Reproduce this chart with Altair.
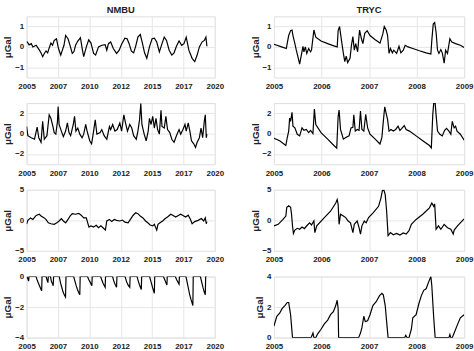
import altair as alt
import pandas as pd

# ---------------- NMBU (left column) ----------------
nmbu1_t = [2005.0, 2005.1, 2005.2, 2005.37, 2005.5, 2005.76, 2005.9, 2006.02, 2006.15, 2006.28, 2006.41, 2006.55, 2006.68, 2006.8,
           2006.94, 2007.07, 2007.2, 2007.38, 2007.54, 2007.72, 2007.85, 2007.98, 2008.11, 2008.3, 2008.46, 2008.64,
           2008.77, 2008.9, 2009.08, 2009.29, 2009.45, 2009.55, 2009.76, 2009.95, 2010.13, 2010.34, 2010.5, 2010.73,
           2011.0, 2011.26, 2011.39, 2011.52, 2011.7, 2011.91, 2012.17, 2012.38, 2012.57, 2012.83, 2013.01, 2013.17,
           2013.35, 2013.53, 2013.69, 2013.87, 2014.06, 2014.21, 2014.4, 2014.58, 2014.79, 2015.0, 2015.18, 2015.37,
           2015.58, 2015.79, 2015.97, 2016.15, 2016.36, 2016.57, 2016.75, 2016.94, 2017.15, 2017.36, 2017.54, 2017.72,
           2017.93, 2018.19, 2018.4, 2018.59, 2018.77, 2018.98, 2019.16, 2019.29, 2019.37]
nmbu1_v = [0.27, 0.2, 0.1, 0.16, 0.0, 0.08, -0.05, -0.16, -0.3, -0.48, -0.32, -0.2, -0.29, -0.05,
           0.19, 0.08, 0.32, 0.4, -0.08, -0.4, -0.16, 0.08, 0.56, 0.4, 0.08, -0.32,
           -0.24, 0.08, 0.29, 0.45, -0.16, -0.48, 0.0, 0.35, 0.19, -0.32, -0.4, 0.0,
           0.08, 0.11, -0.16, 0.16, 0.24, -0.08, -0.32, -0.16, 0.13, 0.43, 0.4, 0.16,
           -0.21, -0.29, 0.03, 0.48, 0.61, 0.24, -0.29, -0.56, 0.0, 0.4, 0.43, 0.24,
           -0.24, 0.16, 0.48, 0.32, -0.16, -0.4, -0.29, 0.03, 0.29, 0.08, 0.16, 0.48,
           -0.16, -0.56, -0.72, -0.4, 0.0, 0.24, 0.32, 0.48, 0.03]

nmbu2_t = [2005.0, 2005.1, 2005.37, 2005.63, 2005.84, 2005.97, 2006.15, 2006.28, 2006.41, 2006.62, 2006.8, 2006.94,
           2007.1, 2007.2, 2007.33, 2007.46, 2007.51, 2007.59, 2007.77, 2007.93, 2008.11, 2008.25, 2008.38, 2008.51,
           2008.72, 2008.82, 2008.93, 2009.08, 2009.24, 2009.42, 2009.55, 2009.71, 2009.82, 2010.03, 2010.18, 2010.34,
           2010.47, 2010.6, 2010.86, 2010.99, 2011.18, 2011.39, 2011.6, 2011.7, 2011.86, 2012.04, 2012.22, 2012.43,
           2012.57, 2012.75, 2012.88, 2013.04, 2013.22, 2013.38, 2013.53, 2013.74, 2013.87, 2014.0, 2014.1, 2014.19,
           2014.37, 2014.53, 2014.69, 2014.79, 2014.92, 2015.05, 2015.18, 2015.31, 2015.44, 2015.58, 2015.71, 2015.79,
           2015.97, 2016.1, 2016.23, 2016.41, 2016.57, 2016.75, 2016.94, 2017.15, 2017.28, 2017.46, 2017.62, 2017.72,
           2017.88, 2018.01, 2018.14, 2018.32, 2018.46, 2018.59, 2018.77, 2018.9, 2019.03, 2019.16, 2019.24, 2019.32,
           2019.37]
nmbu2_v = [0.7, -0.2, -0.4, -0.55, 0.65, -0.4, -0.85, 1.2, -0.55, -0.2, 1.85, 1.5,
           0.7, 0.1, -0.05, 1.2, 2.65, 0.9, 0.25, -0.3, 0.25, 1.05, 0.1, -0.2,
           0.9, 1.7, 0.25, 0.55, -0.05, -0.4, -0.05, 0.9, 0.25, -0.7, -1.0, 0.25,
           1.35, -0.05, 0.1, 0.4, -0.2, -0.55, 0.7, 0.4, 0.9, 0.25, 0.4, 1.05,
           0.25, 1.85, 1.05, 0.25, 0.9, 0.55, -0.2, -0.55, 0.25, 1.35, 2.95, 0.9,
           -0.05, -0.7, 0.25, 1.5, 0.9, 1.7, 0.55, 1.5, 0.4, -0.05, 2.3, 0.7,
           0.55, 1.7, 0.4, 0.1, -0.55, -0.85, -0.2, 0.4, -0.05, 0.4, 0.9, 0.25,
           1.05, 0.25, -0.7, -1.0, -1.35, -0.85, -0.4, 0.55, -0.4, 1.2, 1.85, -0.4,
           -0.05]

nmbu3_t = [2005.0, 2005.1, 2005.31, 2005.5, 2005.76, 2006.02, 2006.15, 2006.41, 2006.54, 2006.73, 2006.94, 2007.2,
           2007.41, 2007.59, 2007.77, 2007.93, 2008.11, 2008.3, 2008.46, 2008.64, 2008.9, 2009.16, 2009.35, 2009.55,
           2009.76, 2009.87, 2009.97, 2010.13, 2010.34, 2010.55, 2010.73, 2010.92, 2011.13, 2011.28, 2011.39, 2011.6,
           2011.78, 2011.99, 2012.17, 2012.43, 2012.64, 2012.83, 2013.09, 2013.27, 2013.48, 2013.69, 2013.87, 2014.06,
           2014.27, 2014.48, 2014.66, 2014.84, 2015.05, 2015.18, 2015.37, 2015.47, 2015.63, 2015.84, 2016.05, 2016.23,
           2016.49, 2016.68, 2016.88, 2017.09, 2017.28, 2017.46, 2017.67, 2017.88, 2018.06, 2018.19, 2018.4, 2018.67,
           2018.93, 2019.11, 2019.24, 2019.32, 2019.37]
nmbu3_v = [-0.6, 0.0, 0.4, 0.15, 0.8, 1.0, 0.7, 0.4, 0.15, -0.4, -0.55, -0.65,
           -0.4, -0.1, 0.3, -0.1, -0.4, 0.15, 0.7, 1.1, 1.0, 1.15, 0.85, 0.4,
           0.4, -0.4, -1.1, -0.9, -1.1, -0.8, -1.2, -0.9, -1.3, -1.6, -0.1, 0.15,
           -0.2, 0.15, 0.0, -0.1, 0.05, -0.3, -0.4, 0.15, 0.8, 1.25, 1.1, 0.7,
           0.4, -0.1, -0.4, -0.75, -0.9, -0.65, -1.6, -0.65, -0.4, -0.1, 0.3, 0.55,
           1.0, 0.8, 0.55, 0.8, 1.0, 0.8, 0.55, 0.85, 0.15, -0.55, -0.2, 0.0,
           0.3, -0.1, 0.4, -0.55, -0.2]

nmbu4_t = [2005.0, 2005.08, 2005.16, 2005.19, 2005.75, 2005.85, 2005.95, 2006.05, 2006.15, 2006.2, 2006.23,
           2006.55, 2006.62, 2006.7, 2006.73, 2006.9, 2006.97, 2007.05, 2007.12, 2007.15,
           2007.6, 2007.7, 2007.8, 2007.9, 2008.0, 2008.1, 2008.14,
           2008.75, 2008.85, 2008.95, 2009.05, 2009.15, 2009.24, 2009.27,
           2009.85, 2009.95, 2010.05, 2010.2, 2010.23,
           2010.9, 2011.0, 2011.1, 2011.26, 2011.29,
           2011.85, 2011.95, 2012.05, 2012.17, 2012.2,
           2012.85, 2012.95, 2013.08, 2013.22, 2013.25,
           2013.8, 2013.9, 2014.0, 2014.14, 2014.17,
           2014.8, 2014.9, 2015.05, 2015.18, 2015.21,
           2015.9, 2016.0, 2016.1, 2016.18, 2016.21,
           2016.85, 2016.95, 2017.05, 2017.15, 2017.18,
           2017.7, 2017.8, 2017.9, 2018.0, 2018.1, 2018.25, 2018.28,
           2018.85, 2018.95, 2019.05, 2019.15, 2019.24, 2019.27, 2019.35]
nmbu4_v = [0.0, -0.1, -0.3, 0.0, 0.0, -0.25, -0.45, -0.65, -0.85, -0.93, 0.0,
           0.0, -0.2, -0.4, 0.0, 0.0, -0.3, -0.45, -0.6, 0.0,
           0.0, -0.4, -0.7, -1.0, -1.2, -1.35, 0.0,
           0.0, -0.3, -0.6, -0.85, -1.05, -1.2, 0.0,
           0.0, -0.2, -0.35, -0.6, 0.0,
           0.0, -0.25, -0.45, -0.7, 0.0,
           0.0, -0.3, -0.5, -0.7, 0.0,
           0.0, -0.3, -0.55, -0.7, 0.0,
           0.0, -0.3, -0.55, -0.85, 0.0,
           0.0, -0.3, -0.75, -1.1, 0.0,
           0.0, -0.2, -0.4, -0.55, 0.0,
           0.0, -0.2, -0.35, -0.5, 0.0,
           0.0, -0.4, -0.8, -1.2, -1.5, -1.9, 0.0,
           0.0, -0.35, -0.7, -1.0, -1.2, 0.0, 0.0]

# ---------------- TRYC (right column) ----------------
tryc1_t = [2005.0, 2005.16, 2005.26, 2005.28, 2005.31, 2005.35, 2005.38, 2005.4, 2005.44, 2005.47, 2005.52, 2005.54,
           2005.57, 2005.61, 2005.63, 2005.66, 2005.69, 2005.73, 2005.77, 2005.79, 2005.84, 2005.88, 2005.99, 2006.13,
           2006.26, 2006.33, 2006.35, 2006.38, 2006.42, 2006.46, 2006.49, 2006.52, 2006.55, 2006.6, 2006.63, 2006.66,
           2006.69, 2006.72, 2006.76, 2006.8, 2006.84, 2006.87, 2006.91, 2006.96, 2007.02, 2007.13, 2007.23, 2007.29,
           2007.32, 2007.36, 2007.39, 2007.42, 2007.45, 2007.49, 2007.52, 2007.58, 2007.63, 2007.67, 2007.72, 2007.76,
           2007.82, 2007.92, 2008.06, 2008.2, 2008.3, 2008.32, 2008.35, 2008.38, 2008.41, 2008.44, 2008.47, 2008.51,
           2008.54, 2008.58, 2008.61, 2008.65, 2008.7, 2008.74, 2008.82, 2008.92, 2009.0]
tryc1_v = [0.13, 0.0, -0.08, 0.19, 0.56, 0.8, 0.83, 0.56, 0.16, -0.16, -0.64, -0.85,
           -0.48, 0.03, -0.24, 0.0, -0.32, -0.08, -0.24, -0.16, 0.83, 0.48, 0.29, 0.16,
           0.05, 0.0, 0.8, 1.0, 0.32, -0.32, -0.72, -0.45, -0.77, -0.56, 0.08, 0.51,
           -0.16, 0.16, -0.24, 0.83, 0.4, 0.16, 0.67, 0.8, 0.56, 0.35, 0.19, 0.64,
           1.0, 0.83, 0.56, -0.32, -0.08, -0.29, -0.16, -0.32, 0.03, -0.29, -0.16, 0.08,
           0.0, -0.08, -0.19, -0.29, -0.35, 0.32, 1.12, 1.2, 0.72, -0.16, -0.32, -0.13,
           -0.29, -0.8, -0.16, -0.32, 0.4, 0.24, 0.16, 0.08, -0.03]

tryc2_t = [2005.0, 2005.12, 2005.25, 2005.28, 2005.31, 2005.33, 2005.35, 2005.38, 2005.4, 2005.44, 2005.49, 2005.54,
           2005.59, 2005.63, 2005.68, 2005.73, 2005.77, 2005.82, 2005.85, 2005.88, 2005.99, 2006.13, 2006.23, 2006.32,
           2006.35, 2006.37, 2006.4, 2006.46, 2006.51, 2006.58, 2006.62, 2006.66, 2006.68, 2006.71, 2006.75, 2006.79,
           2006.82, 2006.85, 2006.89, 2006.93, 2006.97, 2007.02, 2007.13, 2007.23, 2007.27, 2007.3, 2007.33, 2007.36,
           2007.39, 2007.42, 2007.46, 2007.51, 2007.56, 2007.61, 2007.65, 2007.69, 2007.74, 2007.78, 2007.85, 2007.99,
           2008.13, 2008.27, 2008.31, 2008.34, 2008.36, 2008.39, 2008.41, 2008.44, 2008.49, 2008.54, 2008.59, 2008.63,
           2008.68, 2008.72, 2008.75, 2008.79, 2008.82, 2008.85, 2008.92, 2009.0]
tryc2_v = [-0.45, -0.7, -1.17, -0.38, 0.25, 1.52, 1.2, 2.1, 0.73, 0.57, -0.06, -0.22,
           0.57, 0.32, 0.41, 0.1, 0.32, 0.0, 2.41, 0.89, 0.1, -0.54, -1.02, -1.43,
           1.68, 2.32, 0.41, -0.54, -0.38, -0.22, 0.57, 0.63, 1.84, 0.25, 0.41, 0.32,
           2.22, 0.41, 0.25, 1.9, 0.57, -0.06, -0.54, -1.02, -0.38, 1.2, 2.63, 2.0,
           1.37, 0.25, 0.41, 0.25, 0.41, 0.73, 0.32, 0.51, 0.79, 0.41, 0.25, -0.22,
           -0.7, -1.17, -1.4, 1.84, 3.0, 3.0, 1.84, 0.25, -0.06, -0.22, 0.32, 0.51,
           0.25, -0.06, 1.2, 0.57, 0.73, 0.25, -0.06, -0.63]

tryc3_t = [2005.0, 2005.09, 2005.19, 2005.25, 2005.27, 2005.31, 2005.35, 2005.37, 2005.39, 2005.41, 2005.44, 2005.49,
           2005.54, 2005.59, 2005.64, 2005.7, 2005.75, 2005.79, 2005.84, 2005.86, 2005.9, 2006.06, 2006.19, 2006.3,
           2006.33, 2006.35, 2006.37, 2006.4, 2006.46, 2006.51, 2006.56, 2006.61, 2006.66, 2006.69, 2006.75, 2006.79,
           2006.82, 2006.85, 2006.9, 2006.94, 2006.99, 2007.09, 2007.2, 2007.25, 2007.28, 2007.31, 2007.34, 2007.37,
           2007.4, 2007.45, 2007.51, 2007.58, 2007.65, 2007.72, 2007.78, 2007.84, 2007.89, 2007.99, 2008.13, 2008.27,
           2008.32, 2008.36, 2008.38, 2008.41, 2008.46, 2008.51, 2008.58, 2008.65, 2008.72, 2008.77, 2008.79, 2008.86,
           2008.92, 2009.0]
tryc3_v = [-0.9, -0.65, 0.15, 0.7, 2.15, 2.4, 2.15, 1.0, -0.9, -2.15, -1.6, -1.3,
           -1.45, -1.1, -1.35, -0.8, -0.4, -0.75, -0.1, -2.0, -0.9, 0.45, 1.5, 2.85,
           3.4, 2.6, -0.65, 1.0, 0.7, 0.45, -0.1, -0.4, -2.0, -0.65, -0.1, -1.2,
           -2.25, -0.9, -0.1, -0.4, 0.45, 1.25, 2.3, 3.65, 4.85, 5.0, 4.2, 1.5,
           -2.5, -2.0, -2.35, -2.15, -2.4, -2.05, -2.25, -1.7, -0.65, 0.15, 1.0, 2.05,
           2.85, 2.3, 2.7, -1.45, -0.9, -1.45, -0.65, -1.2, -1.45, -2.25, -1.6, -0.9,
           -0.4, 0.25]

tryc4_t = [2005.0, 2005.06, 2005.12, 2005.17, 2005.23, 2005.28, 2005.31, 2005.33, 2005.35, 2005.39,
           2005.78, 2005.82, 2005.84, 2005.88, 2005.92, 2005.99, 2006.06, 2006.13, 2006.19, 2006.25, 2006.3,
           2006.33, 2006.35, 2006.36, 2006.78, 2006.82, 2006.85, 2006.89, 2006.92, 2006.97, 2007.02, 2007.08,
           2007.15, 2007.22, 2007.27, 2007.3, 2007.34, 2007.37, 2007.4, 2007.75, 2007.77, 2007.8, 2007.84,
           2007.89, 2007.92, 2007.99, 2008.05, 2008.1, 2008.15, 2008.2, 2008.26, 2008.3, 2008.32, 2008.36,
           2008.39, 2008.68, 2008.7, 2008.72, 2008.75, 2008.79, 2008.86, 2008.92, 2009.0]
tryc4_v = [0.75, 1.4, 1.6, 1.9, 2.1, 2.3, 2.3, 1.9, 1.5, 0.0,
           0.0, 0.3, 0.0, 0.0, 0.25, 0.55, 0.9, 1.15, 1.5, 1.7, 2.1,
           2.45, 1.9, 0.0, 0.0, 0.3, 0.65, 1.4, 1.05, 1.1, 1.5, 2.1,
           2.35, 2.75, 2.9, 2.8, 2.1, 1.05, 0.0, 0.0, 0.15, 0.0, 0.0,
           0.55, 1.3, 1.5, 2.25, 2.75, 3.1, 3.2, 3.7, 4.0, 3.4, 1.3,
           0.0, 0.0, 0.2, 0.0, 0.0, 0.3, 0.85, 1.3, 1.5]

left_xticks = [2005, 2007.5, 2010, 2012.5, 2015, 2017.5, 2020]
right_xticks = [2005, 2006, 2007, 2008, 2009]

FONT = "Liberation Sans"


def panel(t, v, xdom, xticks, ydom, yticks, w, title=None):
    df = pd.DataFrame({"t": t, "v": v})
    xaxis = alt.Axis(values=xticks, labelExpr="'' + floor(datum.value)", title=None,
                     grid=True, gridColor="#e6e6e6", ticks=False, domain=False,
                     labelFont=FONT, labelFontWeight="bold", labelFontSize=8,
                     labelColor="#222", labelPadding=5, labelFlush=False, labelOverlap=False)
    yaxis = alt.Axis(values=yticks, format="d", title="μGal", grid=True, gridColor="#e6e6e6",
                     ticks=False, domain=False, labelFont=FONT, labelFontWeight="bold",
                     labelFontSize=8, labelColor="#222", labelPadding=3, labelFlush=False,
                     labelOverlap=False, titleFont=FONT, titleFontWeight="bold", titleFontSize=10,
                     titleColor="#222", titlePadding=2)
    ch = alt.Chart(df).mark_line(color="black", strokeWidth=1.2, clip=True).encode(
        x=alt.X("t:Q", scale=alt.Scale(domain=xdom, nice=False, zero=False), axis=xaxis),
        y=alt.Y("v:Q", scale=alt.Scale(domain=ydom, nice=False, zero=False), axis=yaxis),
    ).properties(width=w, height=62)
    if title:
        ch = ch.properties(title=alt.TitleParams(title, font=FONT, fontWeight="bold",
                                                 fontSize=9.5, color="#222", offset=2))
    return ch


LD = [2005, 2020]
RD = [2005, 2009]
panels = [
    panel(nmbu1_t, nmbu1_v, LD, left_xticks, [-1.5, 1.5], [-1, 0, 1], 191, "NMBU"),
    panel(tryc1_t, tryc1_v, RD, right_xticks, [-1.5, 1.5], [-1, 0, 1], 193, "TRYC"),
    panel(nmbu2_t, nmbu2_v, LD, left_xticks, [-3, 3], [-2, 0, 2], 191),
    panel(tryc2_t, tryc2_v, RD, right_xticks, [-3, 3], [-2, 0, 2], 193),
    panel(nmbu3_t, nmbu3_v, LD, left_xticks, [-5, 5], [-5, 0, 5], 191),
    panel(tryc3_t, tryc3_v, RD, right_xticks, [-5, 5], [-5, 0, 5], 193),
    panel(nmbu4_t, nmbu4_v, LD, left_xticks, [-4, 0], [-4, -2, 0], 191),
    panel(tryc4_t, tryc4_v, RD, right_xticks, [0, 4], [0, 2, 4], 193),
]

chart = alt.concat(*panels, columns=2, spacing={"row": 26, "column": 60}, bounds="flush").properties(
    padding={"left": 2, "top": 2, "right": 0, "bottom": 0}
).configure_view(stroke="#333333", strokeWidth=1).configure(background="white")

chart.save("out.html", embed_options={"renderer": "svg", "actions": False})
